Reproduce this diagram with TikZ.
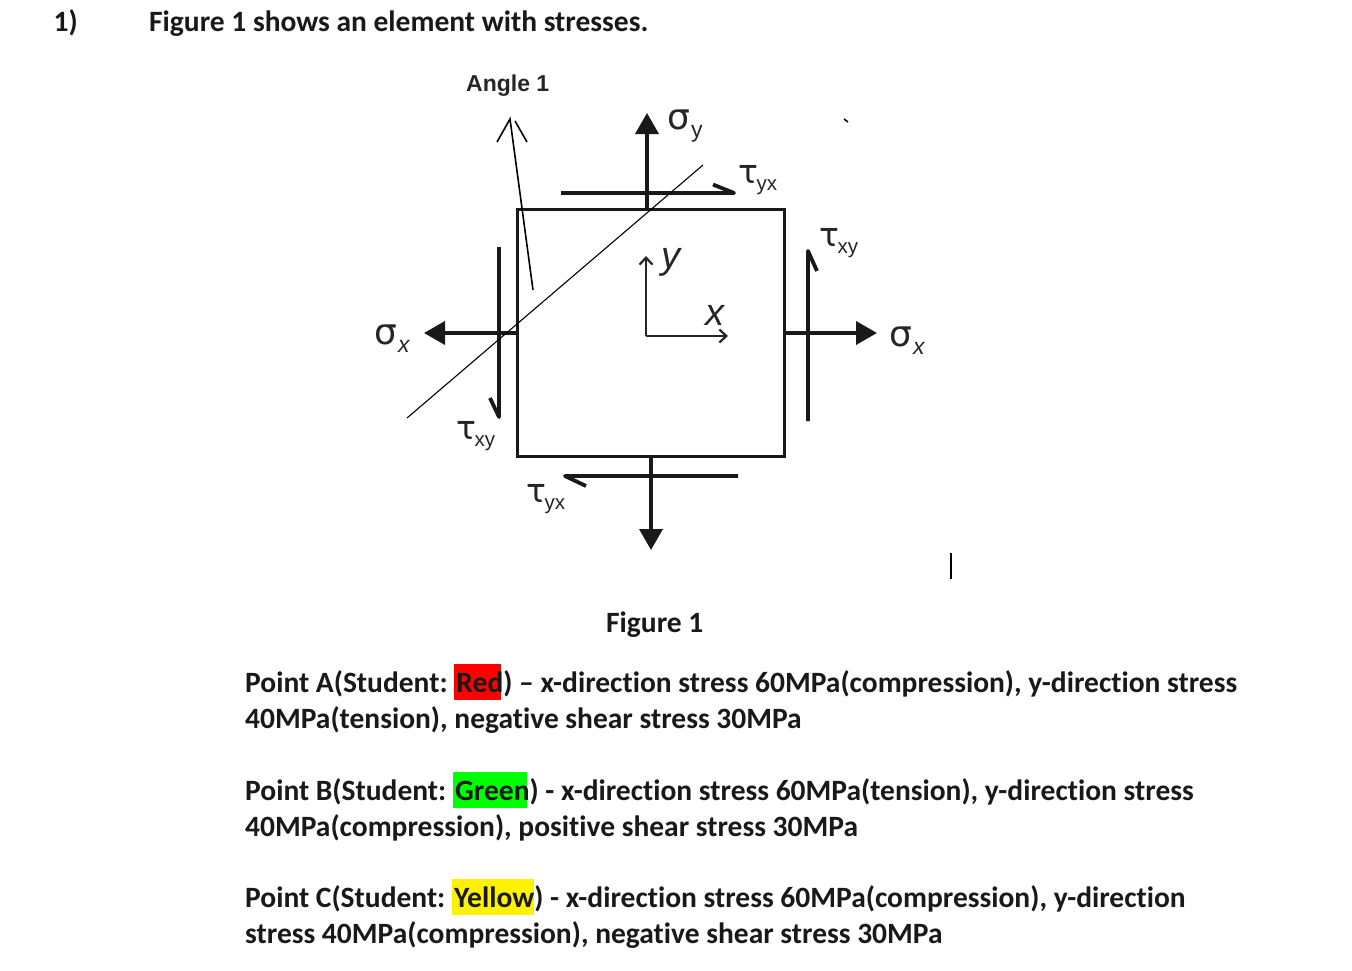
\documentclass[tikz,border=0pt]{standalone}
\usepackage{fontspec}
\setmainfont[RawFeature={-liga;-clig;-dlig}]{Carlito}
\newfontfamily\lab{Liberation Sans}
\newfontfamily\grkf{DejaVu Sans}
\usetikzlibrary{arrows.meta}
\newcommand{\stresslab}[2]{{\grkf\fontsize{36}{36}\selectfont #1\lab\raisebox{-8pt}{\kern1pt\fontsize{23}{23}\selectfont #2}}}
\newcommand{\smlab}[2]{{\grkf\fontsize{33}{33}\selectfont #1\lab\raisebox{-7pt}{\kern-1.5pt\fontsize{20.5}{20.5}\selectfont #2}}}
\tikzset{
  body/.style={font=\fontsize{29.48}{29.48}\selectfont\bfseries,anchor=base west,inner sep=0,text=black!90},
  heavy/.style={draw=black!90,line width=3.8pt},
  force/.style={heavy,-{Triangle[width=23pt,length=21pt]}},
  boxline/.style={draw=black!90,line width=3pt},
  shear/.style={heavy,line join=round},
  axis/.style={draw=black!85,line width=2.2pt,-{Straight Barb[length=7pt,width=13pt,line width=2.2pt]}},
  thin1/.style={draw=black,line width=1.1pt},
  grk/.style={inner sep=0,anchor=base west,text=black!85}
}
\begin{document}
\begin{tikzpicture}[x=1pt,y=-1pt]
\useasboundingbox (0,0) rectangle (1352,970);
\fill[white] (0,0) rectangle (1352,970);
% highlights
\fill[red] (454,664) rectangle (501,700);
\fill[green] (453,772) rectangle (527,808);
\fill[yellow] (452,879) rectangle (534,915);
% coordinates
\coordinate (boxTL) at (517,209);
\coordinate (boxBR) at (784,456);
\coordinate (syA) at (647,209); \coordinate (syB) at (647,113);
\coordinate (sybA) at (651,456); \coordinate (sybB) at (651,550);
\coordinate (sxrA) at (784,333); \coordinate (sxrB) at (877,333);
\coordinate (sxlA) at (517,333); \coordinate (sxlB) at (424,333);
\coordinate (ttA) at (561,193); \coordinate (ttB) at (734,193); \coordinate (ttC) at (713,184.5);
\coordinate (tbA) at (738,476); \coordinate (tbB) at (565,476); \coordinate (tbC) at (586,486);
\coordinate (trA) at (808,421); \coordinate (trB) at (808,251); \coordinate (trC) at (817,271);
\coordinate (tlA) at (499,247); \coordinate (tlB) at (499,417); \coordinate (tlC) at (490,398);
\coordinate (org) at (646,336); \coordinate (axX) at (728,336); \coordinate (axY) at (646,256);
\coordinate (diagA) at (407,418); \coordinate (diagB) at (703,165);
\coordinate (angA) at (533,290); \coordinate (angB) at (510,119);
\coordinate (angL) at (497,142); \coordinate (angR1) at (515,121); \coordinate (angR2) at (527,142);
\coordinate (tickA) at (844,119); \coordinate (tickB) at (848,122);
\coordinate (curA) at (951,553); \coordinate (curB) at (951,579);
% element
\draw[boxline] (boxTL) rectangle (boxBR);
\draw[force] (syA) -- (syB);
\draw[force] (sybA) -- (sybB);
\draw[force] (sxrA) -- (sxrB);
\draw[force] (sxlA) -- (sxlB);
\draw[shear] (ttA) -- (ttB) -- (ttC);
\draw[shear] (tbA) -- (tbB) -- (tbC);
\draw[shear] (trA) -- (trB) -- (trC);
\draw[shear] (tlA) -- (tlB) -- (tlC);
\draw[axis] (org) -- (axX);
\draw[axis] (org) -- (axY);
\draw[thin1] (diagA) -- (diagB);
\draw[thin1,line width=1.6pt] (angA) -- (angB) -- (angL);
\draw[thin1,line width=1.6pt] (angR1) -- (angR2);
\draw[thin1,line width=1.5pt] (tickA) -- (tickB);
\draw[draw=black,line width=1.5pt] (curA) -- (curB);
% labels in figure
\node[grk] (lsy) at (667,129) {\stresslab{σ}{y}};
\node[grk] (ltyxt) at (738,183) {\smlab{τ}{yx}};
\node[grk] (ltxyr) at (819,246) {\smlab{τ}{xy}};
\node[grk] (lsxr) at (889,346) {\stresslab{σ}{\itshape x}};
\node[grk] (lsxl) at (374,344) {\stresslab{σ}{\itshape x}};
\node[grk] (ltxyl) at (456,439) {\smlab{τ}{xy}};
\node[grk] (ltyxb) at (526,502) {\smlab{τ}{yx}};
\node[grk] (ly) at (661,268) {\lab\itshape\fontsize{38}{38}\selectfont y};
\node[grk] (lx) at (705,325) {\lab\itshape\fontsize{38}{38}\selectfont x};
\node[grk] (lang) at (466,91) {\lab\bfseries\fontsize{23}{23}\selectfont Angle 1};
% text
\node[body] (n1) at (53.5,31) {1)};
\node[body] (t1) at (149,31.4) {Figure 1 shows an element with stresses.};
\node[body] (cap) at (606,632.4) {Figure 1};
\node[body] (a1) at (245,692.4) {Point A(Student: Red) – x-direction stress 60MPa(compression), y-direction stress};
\node[body] (a2) at (245,728.4) {40MPa(tension), negative shear stress 30MPa};
\node[body] (b1) at (245,800.4) {Point B(Student: Green) - x-direction stress 60MPa(tension), y-direction stress};
\node[body] (b2) at (245,836.4) {40MPa(compression), positive shear stress 30MPa};
\node[body] (c1) at (245,907.4) {Point C(Student: Yellow) - x-direction stress 60MPa(compression), y-direction};
\node[body] (c2) at (245,943.4) {stress 40MPa(compression), negative shear stress 30MPa};
\end{tikzpicture}
\end{document}
